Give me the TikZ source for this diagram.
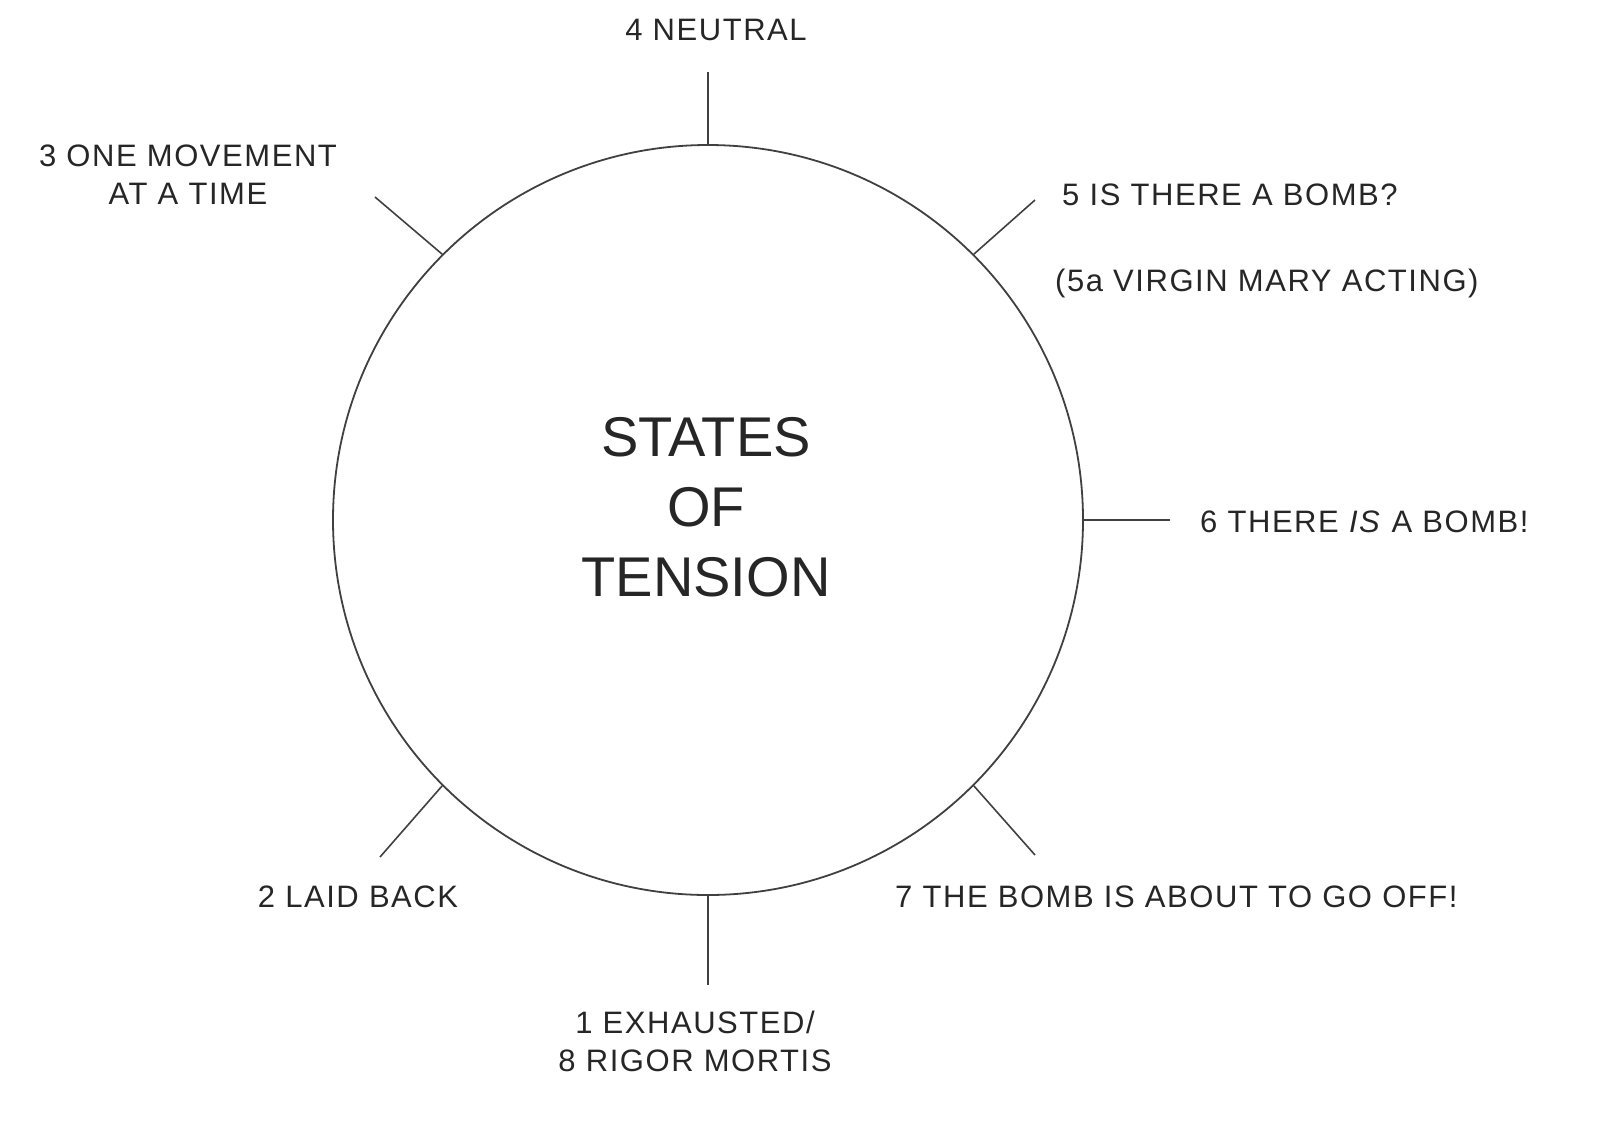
\documentclass[tikz,border=0pt]{standalone}
\usepackage{fontspec}
\setmainfont{Liberation Sans}
\newfontfamily\lblfont[LetterSpace=5]{Liberation Sans}
\begin{document}
\begin{tikzpicture}[x=1pt,y=-1pt,
  lbl/.style={font=\lblfont\fontsize{31}{38}\selectfont, inner sep=0pt, text=black!85},
  tick/.style={line width=1.6pt, black!75}]
\useasboundingbox (0,0) rectangle (1611,1144);
\node[circle, draw=black!75, line width=1.8pt, minimum size=750pt, inner sep=0pt] (c) at (708,520) {};
\node[font=\fontsize{56}{70}\selectfont, align=center, text=black!85] (t) at (706,507) {STATES\\OF\\TENSION};
\coordinate (a1) at (708,72); \draw[tick] (a1) -- (c.90);
\coordinate (a2) at (708,985); \draw[tick] (a2) -- (c.270);
\coordinate (a3) at (1170,520); \draw[tick] (a3) -- (c.0);
\coordinate (a4) at (375,197); \draw[tick] (a4) -- (c.135);
\coordinate (a5) at (1035,200); \draw[tick] (a5) -- (c.45);
\coordinate (a6) at (380,857); \draw[tick] (a6) -- (c.225);
\coordinate (a7) at (1035,855); \draw[tick] (a7) -- (c.315);
\node[lbl] (n4) at (716,30) {4 NEUTRAL};
\node[lbl, align=center] (n3) at (188,175) {3 ONE MOVEMENT\\AT A TIME};
\node[lbl, anchor=west] (n5) at (1062,195) {5 IS THERE A BOMB?};
\node[lbl, anchor=west] (n5a) at (1055,283) {(5a VIRGIN MARY ACTING)};
\node[lbl, anchor=west] (n6) at (1200,522) {6 THERE \textit{IS} A BOMB!};
\node[lbl, anchor=west] (n7) at (895,897) {7 THE BOMB IS ABOUT TO GO OFF!};
\node[lbl] (n2) at (358,897) {2 LAID BACK};
\node[lbl, align=center] (n1) at (695,1041) {1 EXHAUSTED/\\8 RIGOR MORTIS};
\end{tikzpicture}
\end{document}
